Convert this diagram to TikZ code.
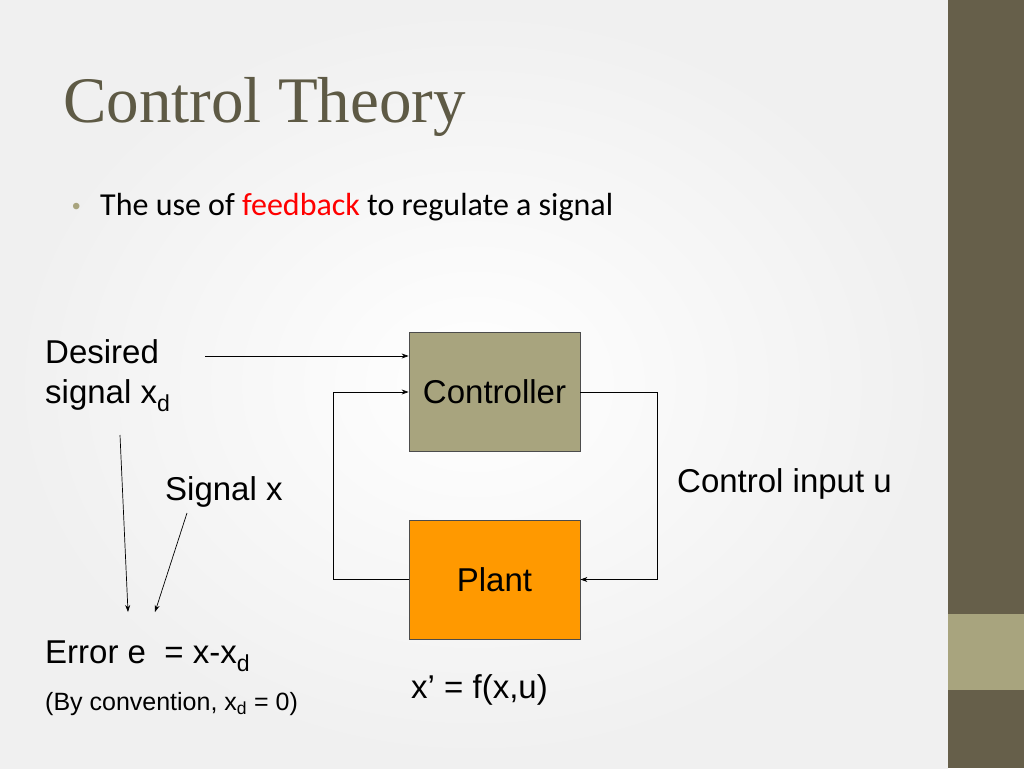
\documentclass[tikz,border=0pt]{standalone}
\usepackage{fontspec}
\usetikzlibrary{arrows.meta}
\setmainfont{Liberation Sans}
\newfontfamily\titlefont{Liberation Serif}
\newfontfamily\bodyfont{Carlito}
\begin{document}
\begin{tikzpicture}[x=1pt,y=-1pt,
  lbl/.style={anchor=base west,inner sep=0pt,font=\fontsize{33}{38}\selectfont},
  blk/.style={draw=black!70,line width=0.8pt,minimum width=171pt,minimum height=119pt,inner sep=0pt,font=\fontsize{33}{38}\selectfont},
  arr/.style={-{Stealth[length=7pt,width=5pt]},line width=0.7pt}]
\useasboundingbox (0,0) rectangle (1024,768);
\shade[inner color=white,outer color=black!6] (0,0) rectangle (948,768);
\fill[fill={rgb,255:red,102;green,95;blue,74}] (948,0) rectangle (1024,768);
\fill[fill={rgb,255:red,168;green,164;blue,126}] (948,614) rectangle (1024,690);
\node[anchor=base west,inner sep=0pt,text={rgb,255:red,94;green,90;blue,69},font=\titlefont\fontsize{65}{75}\selectfont] (title) at (63,122) {Control Theory};
\node[anchor=base west,inner sep=0pt,text={rgb,255:red,168;green,164;blue,126},font=\fontsize{24}{28}\selectfont] (dot) at (72,214) {•};
\node[anchor=base west,inner sep=0pt,font=\bodyfont\fontsize{32}{36}\selectfont] (bul) at (100,215) {The use of \textcolor{red}{feedback} to regulate a signal};
\node[blk,fill={rgb,255:red,168;green,164;blue,126}] (ctrl) at (494.5,391.5) {Controller};
\node[blk,fill={rgb,255:red,255;green,153;blue,0}] (plant) at (494.5,579.5) {Plant};
\node[lbl] (des1) at (45,363) {Desired};
\node[lbl] (des2) at (45,403) {signal x\textsubscript{d}};
\node[lbl] (sig) at (165,500) {Signal x};
\node[lbl] (cin) at (677,492) {Control input u};
\node[lbl] (err) at (45,663) {Error e\ \ = x-x\textsubscript{d}};
\node[anchor=base west,inner sep=0pt,font=\fontsize{25}{29}\selectfont] (conv) at (45,710) {(By convention, x\textsubscript{d} = 0)};
\node[lbl] (fx) at (411,698) {x’ = f(x,u)};
\coordinate (d0) at (205,356);
\coordinate (a0) at (120,435); \coordinate (a1) at (128,612);
\coordinate (b0) at (187,513); \coordinate (b1) at (155,612);
\draw[arr] (d0) -- (d0 -| ctrl.west);
\draw[arr] (plant.west) -- (333,579.5) -- (333,392) -- (ctrl.west |- 0,392);
\draw[arr] (ctrl.east |- 0,392) -- (657,392) -- (657,579.5) -- (plant.east);
\draw[arr] (a0) -- (a1);
\draw[arr] (b0) -- (b1);
\end{tikzpicture}
\end{document}
